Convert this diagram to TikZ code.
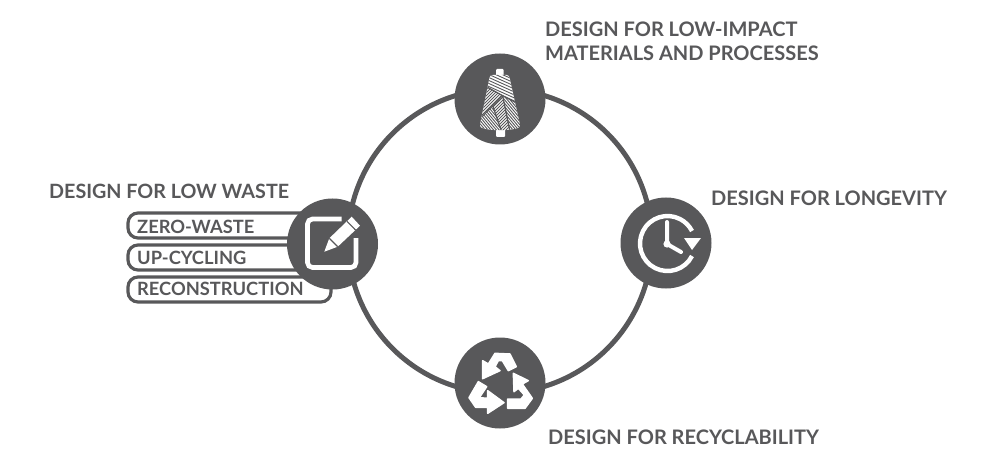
\documentclass[tikz,border=0pt]{standalone}
\usepackage{fontspec}
\setmainfont{Lato}[UprightFont=*-Bold]
\definecolor{ink}{HTML}{58585A}
\tikzset{
  x=1pt,y=-1pt,
  hub/.style={circle,fill=ink,minimum size=91pt,inner sep=0pt,outer sep=0pt},
  ring/.style={circle,draw=ink,line width=5pt,minimum size=304pt,inner sep=0pt},
  title/.style={text=ink,anchor=west,inner sep=0pt,font=\fontsize{20}{24}\selectfont,align=left},
  sub/.style={text=ink,anchor=west,inner sep=0pt,font=\fontsize{18.3}{22}\selectfont},
  pill/.style={draw=ink,line width=3.2pt,rounded corners=10pt,fill=white},
  wline/.style={draw=white,line width=4.7pt},
  wfill/.style={fill=white,draw=none},
  stripe/.style={draw=ink,line width=0.9pt},
  seam/.style={draw=ink,line width=1.2pt}
}
\begin{document}
\begin{tikzpicture}
\useasboundingbox (0,0) rectangle (1000,470);
\fill[white] (0,0) rectangle (1000,470);
\node[ring] (loop) at (500,241) {};
% pills
\draw[pill] (128,277) rectangle (331,302);
\draw[pill] (128,245) rectangle (340,270);
\draw[pill] (128,213) rectangle (340,238);
\node[sub] (p1) at (137,226.5) {ZERO-WASTE};
\node[sub] (p2) at (137,258) {UP-CYCLING};
\node[sub] (p3) at (137,289) {RECONSTRUCTION};
% hubs
\node[hub] (top) at (500,99) {};
\node[hub] (right) at (666,243) {};
\node[hub] (bottom) at (500,383) {};
\node[hub] (left) at (332.5,244) {};
% spool
\fill[white,rounded corners=1pt] (496,69) rectangle (503.5,78);
\fill[white,rounded corners=1pt] (496,127) rectangle (505,137);
\begin{scope}
\clip[rounded corners=2.5pt] (490,75) -- (509,75) -- (520.5,127) .. controls (510,131) and (490,131) .. (479.5,127) -- cycle;
\fill[white] (475,70) rectangle (525,135);
\begin{scope}[shift={(470,65)},xscale=1/3,yscale=1/3]
% patch A
\begin{scope}
\clip (40,20) -- (140,20) -- (140,114) -- (98,92) -- (40,60) -- cycle;
\foreach \d in {-60,-51,...,120} \draw[stripe] (0,\d) -- (200,{\d+90});
\end{scope}
% patch B
\begin{scope}
\clip (52,66) -- (98,92) -- (36,155) -- (10,150) -- (10,100) -- cycle;
\foreach \d in {60,69,...,240} \draw[stripe] (0,\d) -- (200,{\d-200});
\end{scope}
% patch C
\begin{scope}
\clip (36,155) -- (68,122) -- (95,200) -- (10,200) -- cycle;
\foreach \d in {-20,-10,...,170} \draw[stripe] (0,\d) -- (200,{\d+240});
\end{scope}
% patch D
\begin{scope}
\clip (68,122) -- (98,92) -- (120,200) -- (95,200) -- cycle;
\foreach \d in {150,159,...,330} \draw[stripe] (0,\d) -- (200,{\d-200});
\end{scope}
% patch E
\begin{scope}
\clip (98,92) -- (140,114) -- (170,200) -- (120,200) -- cycle;
\foreach \d in {-130,-120,...,170} \draw[stripe] (0,\d) -- (200,{\d+240});
\end{scope}
\draw[seam] (40,60) -- (98,92) -- (140,114);
\draw[seam] (98,92) -- (36,155);
\draw[seam] (68,122) -- (95,200);
\draw[seam] (98,92) -- (120,200);
\end{scope}
\end{scope}
% pencil
\draw[wline,rounded corners=5pt] (341.5,219) -- (307.5,219) -- (307.5,267.5) -- (356,267.5) -- (356,238);
\fill[wfill] (324.3,251.7) -- (329.3,238.3) -- (351.7,216.7) -- (360,225.7) -- (337.7,246.7) -- cycle;
\draw[ink,line width=1.1pt] (329.3,238.3) -- (337.7,246.7);
\draw[ink,line width=1.1pt] (347,221.3) -- (355.5,230);
% clock
\draw[draw=white,line width=4.4pt] (692,256) arc[start angle=27,end angle=333,radius=27.5];
\fill[wfill] (684,238) -- (701,238) -- (692,250) -- cycle;
\draw[white,line width=4pt,line cap=round] (667,222) -- (667,244) -- (681,252);
\fill[white] (667,244) circle[radius=3.6pt];
% recycle
\begin{scope}[shift={(445,330)},xscale=1/3,yscale=1/3,every path/.append style={draw=white,line width=1.5pt,line join=round}]
\fill[white] (150,70) -- (195,72) -- (214,110) -- (190,122) -- (172,92) -- (160,92) -- (150,110) -- (165,122) -- (113,146) -- (113,92) -- (130,102) -- cycle;
\fill[white] (205,130) -- (250,152) -- (232,162) -- (262,205) -- (240,235) -- (188,235) -- (188,207) -- (228,207) -- (238,195) -- (220,175) -- (207,185) -- cycle;
\fill[white] (128,182) -- (177,218) -- (128,250) -- (128,232) -- (92,232) -- (72,203) -- (100,155) -- (125,170) -- (103,203) -- (128,205) -- cycle;
\end{scope}
% titles
\node[title] (t1) at (545,41) {DESIGN FOR LOW-IMPACT\\MATERIALS AND PROCESSES};
\node[title] (t2) at (711,198) {DESIGN FOR LONGEVITY};
\node[title,font=\fontsize{19.7}{24}\selectfont] (t3) at (49,191.5) {DESIGN FOR LOW WASTE};
\node[title] (t4) at (548,437.5) {DESIGN FOR RECYCLABILITY};
\end{tikzpicture}
\end{document}
